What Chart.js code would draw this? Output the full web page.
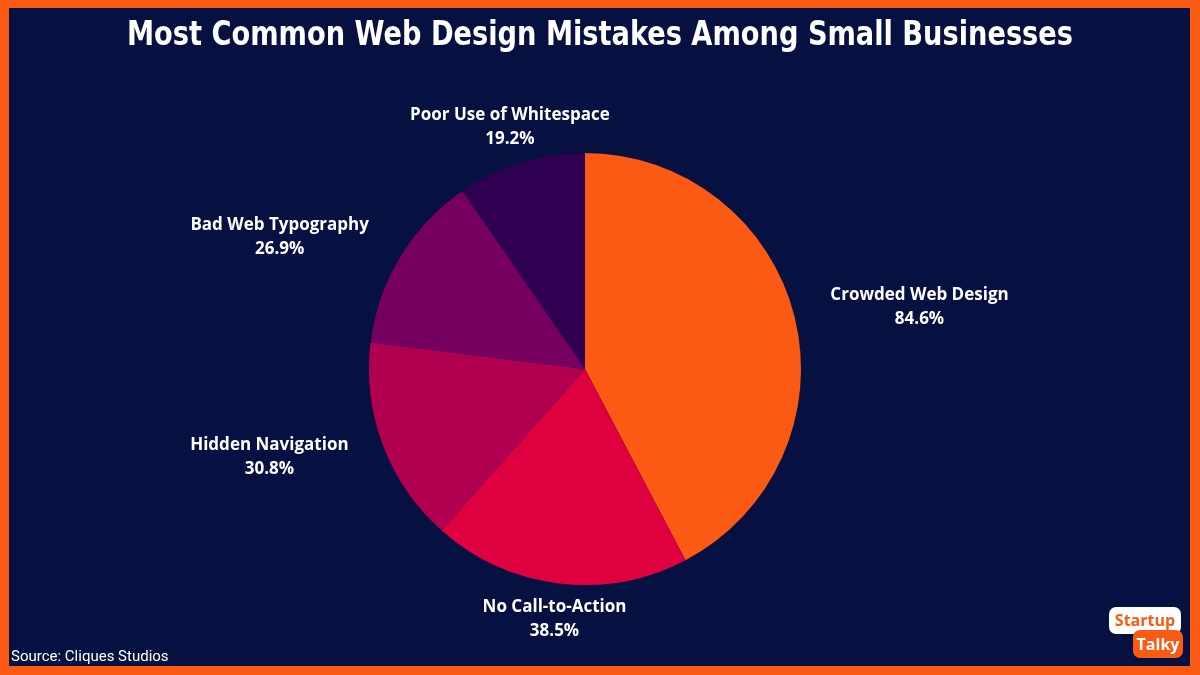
<!DOCTYPE html>
<html>
<head>
<meta charset="utf-8">
<script src="https://cdn.jsdelivr.net/npm/chart.js@4/dist/chart.umd.min.js"></script>
<style>
  html, body { margin: 0; padding: 0; }
  body { width: 1200px; height: 675px; background: #fa5a14; position: relative; overflow: hidden; }
  #frame { position: absolute; left: 9px; top: 8px; width: 1181px; height: 658px; background: #061142; }
  #frame canvas { position: absolute; left: 0; top: 0; }
  #logo { position: absolute; left: 1109px; top: 607px; width: 78px; height: 55px; font-family: "Open Sans", sans-serif; font-weight: 700; }
  #logo .s { position: absolute; left: 0; top: 0; width: 72px; text-align: center; background: #fff; color: #fa5a14; font-size: 16px; line-height: 27px; border-radius: 7px; }
  #logo .t { position: absolute; left: 24px; top: 23px; width: 50px; text-align: center; background: #fa5a14; color: #fff; font-size: 16px; line-height: 28px; border-radius: 7px; }
</style>
</head>
<body>
<div id="frame"><canvas id="myChart" width="1181" height="658"></canvas></div>
<div id="logo"><span class="s">Startup</span><span class="t">Talky</span></div>
<script>
'use strict';
const categories = ['Crowded Web Design', 'No Call-to-Action', 'Hidden Navigation', 'Bad Web Typography', 'Poor Use of Whitespace'];
const percentages = [84.6, 38.5, 30.8, 26.9, 19.2];
const sliceColors = ['#fa5a14', '#df0040', '#b0004f', '#760060', '#2f0052'];
const chartTitle = 'Most Common Web Design Mistakes Among Small Businesses';
const sourceNote = 'Source: Cliques Studios';

// labels outside each slice, two centred lines
const outsideLabels = {
  id: 'outsideLabels',
  afterDatasetsDraw(chart) {
    const ctx = chart.ctx;
    const meta = chart.getDatasetMeta(0);
    ctx.save();
    ctx.fillStyle = '#ffffff';
    ctx.font = 'bold 17px "Open Sans", sans-serif';
    ctx.textBaseline = 'middle';
    ctx.textAlign = 'center';
    meta.data.forEach((arc, i) => {
      const mid = (arc.startAngle + arc.endAngle) / 2;
      const r = arc.outerRadius * 1.17;
      const ax = arc.x + Math.cos(mid) * r;
      const ay = arc.y + Math.sin(mid) * r;
      const lines = [categories[i], percentages[i].toFixed(1) + '%'];
      const w = Math.max(...lines.map(l => ctx.measureText(l).width));
      let cx = ax;
      if (Math.cos(mid) > 0.5) cx = ax + w / 2;
      else if (Math.cos(mid) < -0.5) cx = ax - w / 2;
      ctx.fillText(lines[0], cx, ay - 13);
      ctx.fillText(lines[1], cx, ay + 11);
    });
    ctx.restore();
  }
};

const headerText = {
  id: 'headerText',
  afterDraw(chart) {
    const ctx = chart.ctx;
    ctx.save();
    ctx.fillStyle = '#ffffff';
    ctx.textAlign = 'center';
    ctx.textBaseline = 'alphabetic';
    ctx.font = 'bold 34px "DejaVu Sans Condensed", sans-serif';
    // squeeze the title to the reference width
    const tw = ctx.measureText(chartTitle).width;
    const sx = Math.min(1, 946 / tw);
    ctx.translate(591, 37);
    ctx.scale(sx, 1);
    ctx.fillText(chartTitle, 0, 0);
    ctx.setTransform(1, 0, 0, 1, 0, 0);
    ctx.textAlign = 'left';
    ctx.font = '15px Roboto, sans-serif';
    ctx.fillText(sourceNote, 2, 653);
    ctx.restore();
  }
};

let ctx = document.getElementById('myChart').getContext('2d');
let chart = new Chart(ctx, {
  type: 'pie',
  data: {
    labels: categories,
    datasets: [{
      data: percentages,
      backgroundColor: sliceColors,
      borderWidth: 0
    }]
  },
  options: {
    responsive: false,
    animation: false,
    layout: { padding: { top: 145, bottom: 81, left: 276, right: 305 } },
    plugins: {
      legend: { display: false },
      tooltip: { enabled: false },
      title: { display: false }
    }
  },
  plugins: [outsideLabels, headerText]
});
</script>
</body>
</html>
